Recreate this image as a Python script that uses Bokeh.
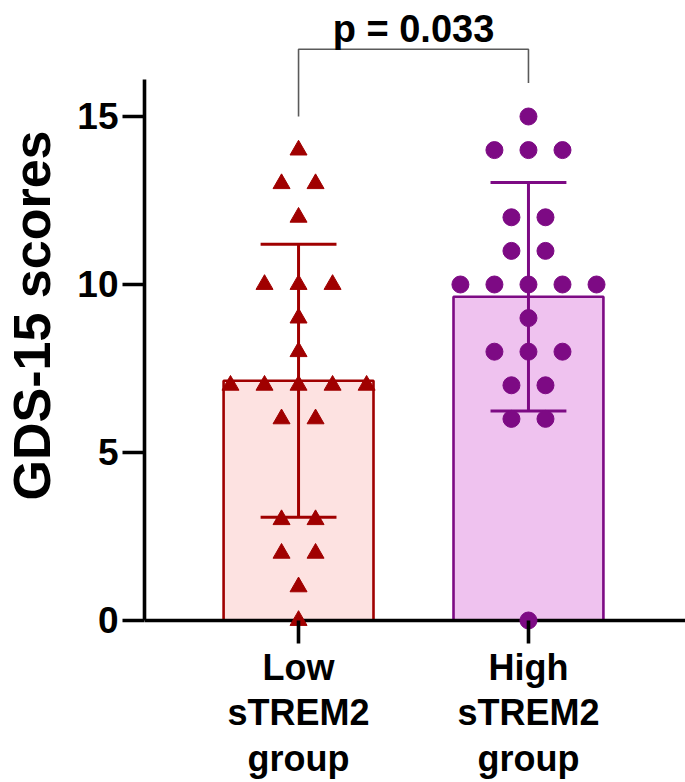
import numpy as np
from bokeh.plotting import figure
from bokeh.models import Range1d, FixedTicker, ColumnDataSource
from bokeh.core.properties import value
from bokeh.embed import file_html
from bokeh.resources import INLINE

# ---------------- data ----------------
groups = ["Low\nsTREM2\ngroup", "High\nsTREM2\ngroup"]
group_pos = [1, 2]
low_scores = [14, 13, 13, 12, 10, 10, 10, 9, 8, 7, 7, 7, 7, 7, 6, 6, 3, 3, 2, 2, 1, 0]
high_scores = [15, 14, 14, 14, 12, 12, 11, 11, 10, 10, 10, 10, 10, 9, 8, 8, 8, 7, 7, 6, 6, 0]
y_ticks = [0, 5, 10, 15]
p_text = "p = 0.033"
bracket_y = [15.0, 17.0, 17.0, 16.0]

# ---------------- styles ----------------
FONT = "Liberation Sans"
low_fill, low_line = "#FDE2E1", "#A00000"
high_fill, high_line = "#EFC2EF", "#7D0A84"
step = 0.148  # horizontal spacing of stacked points (x units)


def spread(scores, center):
    xs = []
    counts = {}
    for s in scores:
        counts[s] = counts.get(s, 0) + 1
    seen = {}
    for s in scores:
        i = seen.get(s, 0)
        seen[s] = i + 1
        xs.append(center + (i - (counts[s] - 1) / 2) * step)
    return xs


means = [float(np.mean(low_scores)), float(np.mean(high_scores))]
sds = [float(np.std(low_scores, ddof=1)), float(np.std(high_scores, ddof=1))]

p = figure(frame_width=541, frame_height=630,
           x_range=Range1d(0.33, 2.683), y_range=Range1d(-0.298, 18.452),
           output_backend="svg", toolbar_location=None,
           min_border_left=144, min_border_right=0,
           min_border_top=0, min_border_bottom=0)
p.outline_line_color = None
p.xgrid.visible = False
p.ygrid.visible = False
p.background_fill_color = "white"
p.border_fill_color = "white"

# bars
bars = ColumnDataSource(dict(x=group_pos, top=means, fill=[low_fill, high_fill],
                             line=[low_line, high_line]))
p.vbar(x="x", top="top", bottom=0, width=0.652, source=bars,
       fill_color="fill", line_color="line", line_width=2.6)

# x axis line at y = 0
p.hspan(y=[0], line_color="black", line_width=3.6)

# error bars
err = ColumnDataSource(dict(
    x=group_pos,
    lo=[m - s for m, s in zip(means, sds)],
    hi=[m + s for m, s in zip(means, sds)],
    cl=[x - 0.165 for x in group_pos],
    cr=[x + 0.165 for x in group_pos],
    c=[low_line, high_line]))
p.segment(x0="x", x1="x", y0="lo", y1="hi", line_color="c", line_width=3, source=err)
p.segment(x0="cl", x1="cr", y0="hi", y1="hi", line_color="c", line_width=3, source=err)
p.segment(x0="cl", x1="cr", y0="lo", y1="lo", line_color="c", line_width=3, source=err)

# points
p.scatter(spread(low_scores, group_pos[0]), low_scores, marker="triangle",
          size=17, fill_color=low_line, line_color=low_line)
p.scatter(spread(high_scores, group_pos[1]), high_scores, marker="circle",
          size=17, fill_color=high_line, line_color=high_line)

# significance bracket
p.line([group_pos[0], group_pos[0], group_pos[1], group_pos[1]], bracket_y,
       line_color="#5a5a5a", line_width=1.6)
p.text(x=[(group_pos[0] + group_pos[1]) / 2], y=[17.6], text=[p_text],
       text_font=value(FONT), text_font_style="bold", text_font_size="38px",
       text_align="center", text_baseline="alphabetic", text_color="black")

# y axis
ya = p.yaxis[0]
ya.ticker = FixedTicker(ticks=y_ticks)
ya.bounds = (0, 16.1)
ya.axis_line_width = 3.6
ya.axis_line_color = "black"
ya.major_tick_line_width = 3.6
ya.major_tick_out = 22
ya.major_tick_in = 0
ya.minor_tick_line_color = None
ya.major_label_standoff = 4
ya.major_label_text_font = FONT
ya.major_label_text_font_style = "bold"
ya.major_label_text_font_size = "37px"
ya.major_label_text_color = "black"
ya.axis_label = "GDS-15 scores"
ya.axis_label_text_font = FONT
ya.axis_label_text_font_style = "bold"
ya.axis_label_text_font_size = "52px"
ya.axis_label_text_line_height = 1.0
ya.axis_label_text_color = "black"
ya.axis_label_standoff = 13

# x axis (line drawn by hspan at 0; ticks cross it from the frame bottom)
xa = p.xaxis[0]
xa.ticker = FixedTicker(ticks=group_pos)
xa.major_label_overrides = {pos: lab for pos, lab in zip(group_pos, groups)}
xa.axis_line_color = None
xa.major_tick_in = 10
xa.major_tick_out = 13
xa.major_tick_line_width = 3.6
xa.major_tick_line_color = "black"
xa.minor_tick_line_color = None
xa.major_label_standoff = 3
xa.major_label_text_font = FONT
xa.major_label_text_font_style = "bold"
xa.major_label_text_font_size = "36px"
xa.major_label_text_line_height = 1.12
xa.major_label_text_color = "black"

open("out.html", "w").write(file_html(p, INLINE))
